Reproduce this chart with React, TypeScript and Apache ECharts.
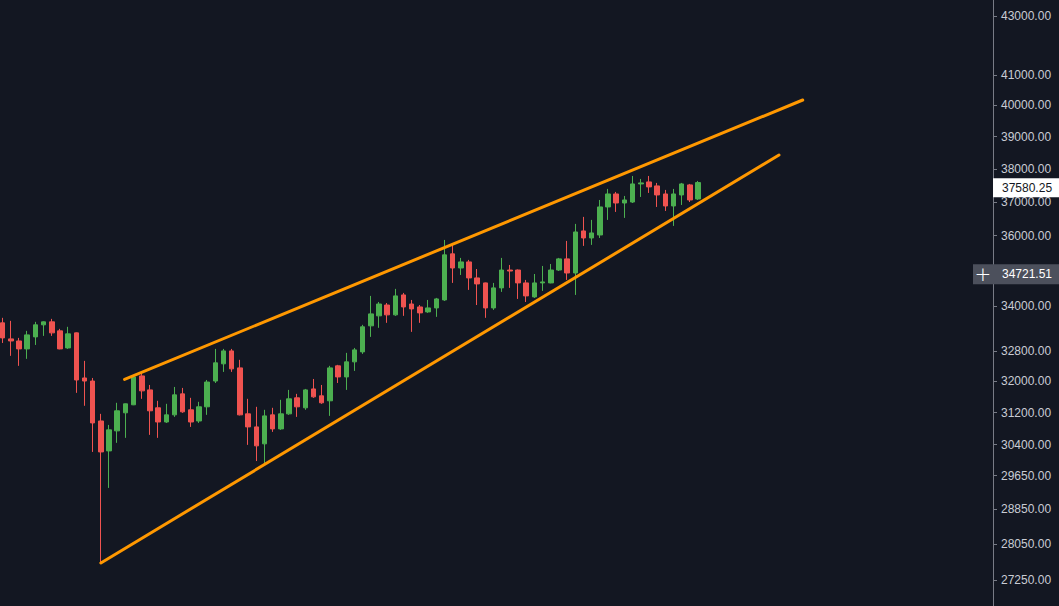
import React, { useEffect, useRef } from "react";
import * as echarts from "echarts";

// OHLC values (one entry per candle)
const OPEN = [33550, 33117, 33062, 32850, 33171, 33496, 33577, 33333, 32876, 33279, 32087, 32008, 30990, 30249, 30743, 31195, 31398, 32140, 31779, 31322, 30965, 31144, 31677, 31271, 30990, 31347, 32008, 32456, 32797, 32350, 31169, 30842, 30422, 31144, 30792, 31169, 31576, 31322, 31804, 31627, 31500, 32403, 32114, 32508, 32771, 33469, 33740, 34037, 33767, 34316, 34065, 33984, 33848, 33957, 34177, 35475, 35072, 35244, 34791, 34651, 33957, 34512, 35014, 35014, 34651, 34261, 34651, 34651, 35014, 35331, 34930, 36139, 35934, 36021, 36847, 37236, 36965, 36994, 37539, 37600, 37479, 37236, 36876, 37206, 37509, 37085];
const CLOSE = [33144, 33062, 32850, 33225, 33496, 33577, 33279, 32850, 33252, 32035, 32008, 30941, 30224, 30768, 31246, 31423, 32114, 31754, 31246, 30965, 31144, 31652, 31220, 30965, 31347, 31982, 32482, 32797, 32324, 31144, 30842, 30373, 31118, 30792, 31169, 31550, 31347, 31779, 31601, 31449, 32350, 32114, 32508, 32824, 33442, 33794, 34065, 33767, 34289, 33984, 33930, 33821, 33957, 34205, 35446, 35072, 35244, 34791, 34623, 33957, 34512, 35014, 34986, 34651, 34289, 34651, 34679, 35014, 35331, 34930, 36109, 35934, 36080, 36847, 37236, 36965, 37055, 37539, 37570, 37449, 37206, 36876, 37236, 37539, 37055, 37580.25];
const LOW = [33008, 32666, 32403, 32587, 32955, 33198, 33198, 32840, 32850, 31703, 31373, 30224, 27628, 29357, 30447, 30570, 31390, 31550, 30644, 30570, 30941, 31093, 31195, 30842, 30941, 31144, 31957, 32245, 32245, 31130, 30397, 30002, 29955, 30718, 30768, 31144, 31093, 31271, 31576, 31423, 31118, 31957, 31779, 32271, 32718, 33171, 33415, 33550, 33740, 33740, 33306, 33550, 33821, 33713, 34149, 34651, 34874, 34456, 34037, 33686, 33903, 34400, 34512, 34205, 34121, 34233, 34428, 34640, 34986, 34735, 34316, 35704, 35733, 35934, 36463, 36699, 36522, 36965, 37146, 37267, 36847, 36728, 36286, 36906, 36994, 37055];
const HIGH = [33686, 33604, 33144, 33333, 33577, 33590, 33658, 33387, 33442, 33290, 32534, 32087, 31169, 30891, 31449, 31430, 32166, 32219, 31906, 31500, 31423, 31855, 31830, 31576, 31474, 32035, 32850, 32850, 32850, 32561, 31550, 31347, 31271, 31322, 31525, 31779, 31677, 31804, 32061, 31906, 32403, 32429, 32745, 32876, 33496, 34289, 34121, 34093, 34484, 34372, 34177, 34037, 34177, 34233, 35877, 35733, 35359, 35302, 35043, 34660, 34651, 35359, 35158, 35030, 34735, 34902, 35130, 35186, 35359, 35848, 36345, 36552, 36463, 37055, 37388, 37297, 37176, 37782, 37691, 37782, 37570, 37358, 37388, 37570, 37539, 37630];

// Price-axis tick labels (logarithmic price scale)
const TICKS = [43000, 41000, 40000, 39000, 38000, 37000, 36000, 35000, 34000, 32800, 32000, 31200, 30400, 29650, 28850, 28050, 27250];
const Y_MIN = 26683;
const Y_MAX = 43560;
const X_MIN = -0.33;
const X_MAX = 121.06;

// Trend lines: [candle index, price]
const UPPER_LINE = [[14.9, 32050], [97.8, 40176]];
const LOWER_LINE = [[12, 27628], [94.9, 38428]];

// Price labels on the axis
const LAST_PRICE = 37580.25;
const CROSS_PRICE = 34721.51;

const UP = "#4caf50";
const DOWN = "#ef5350";
const ORANGE = "#ff9800";
const BG = "#131722";

const ln = (v: number) => Math.log(v);

export default function App() {
  const ref = useRef<HTMLDivElement>(null);

  useEffect(() => {
    if (!ref.current) return;
    const chart = echarts.init(ref.current, undefined, { renderer: "svg" });

    const candles = OPEN.map((o, i) => [i, ln(o), ln(CLOSE[i]), ln(LOW[i]), ln(HIGH[i])]);
    const toLine = (pts: number[][]) => pts.map((p) => [p[0], ln(p[1])]);
    const fmt = (v: number) => {
      let best = TICKS[0];
      for (const t of TICKS) if (Math.abs(ln(t) - v) < Math.abs(ln(best) - v)) best = t;
      return best.toFixed(2);
    };

    chart.setOption({
      animation: false,
      backgroundColor: BG,
      grid: { left: 0, right: 66, top: 0, bottom: 0 },
      xAxis: {
        type: "value",
        min: X_MIN,
        max: X_MAX,
        show: false,
      },
      yAxis: {
        type: "value",
        position: "right",
        min: ln(Y_MIN),
        max: ln(Y_MAX),
        scale: true,
        splitLine: { show: false },
        axisLine: { show: true, onZero: false, lineStyle: { color: "#787b86", width: 1 } },
        axisTick: {
          show: true,
          length: 4,
          customValues: TICKS.map(ln),
          lineStyle: { color: "#787b86" },
        },
        axisLabel: {
          customValues: TICKS.map(ln),
          formatter: (v: number) => fmt(v),
          color: "#c9ccd4",
          fontSize: 12,
          fontFamily: "Liberation Sans",
          margin: 8,
        },
      },
      series: [
        {
          type: "candlestick",
          data: candles,
          encode: { x: 0, y: [1, 2, 3, 4] },
          barWidth: 5,
          itemStyle: {
            color: UP,
            color0: DOWN,
            borderColor: UP,
            borderColor0: DOWN,
            borderWidth: 1,
          },
          markLine: {
            silent: true,
            symbol: ["none", "none"],
            lineStyle: { color: "rgba(0,0,0,0)", width: 0, type: "solid" },
            data: [
              {
                yAxis: ln(LAST_PRICE),
                label: {
                  show: true,
                  position: "end",
                  distance: 0,
                  formatter: () => LAST_PRICE.toFixed(2),
                  color: "#131722",
                  backgroundColor: "#ffffff",
                  fontSize: 12,
                  fontFamily: "Liberation Sans",
                  lineHeight: 13,
                  padding: [3, 8, 3, 9],
                },
              },
              {
                yAxis: ln(CROSS_PRICE),
                label: {
                  show: true,
                  position: "end",
                  distance: -20,
                  formatter: () => "{p|+}{v|" + CROSS_PRICE.toFixed(2) + "}",
                  backgroundColor: "#4c505c",
                  padding: [3, 8, 3, 0],
                  lineHeight: 14,
                  rich: {
                    p: {
                      width: 20,
                      align: "center",
                      fontSize: 20,
                      fontFamily: "DejaVu Sans",
                      fontWeight: 200,
                      color: "#ffffff",
                      lineHeight: 14,
                    },
                    v: {
                      color: "#ffffff",
                      fontSize: 12,
                      fontFamily: "Liberation Sans",
                      padding: [0, 0, 0, 9],
                      lineHeight: 14,
                    },
                  },
                },
              },
            ],
          },
        },
        {
          type: "line",
          data: toLine(UPPER_LINE),
          symbol: "none",
          silent: true,
          lineStyle: { color: ORANGE, width: 3, cap: "round" },
        },
        {
          type: "line",
          data: toLine(LOWER_LINE),
          symbol: "none",
          silent: true,
          lineStyle: { color: ORANGE, width: 3, cap: "round" },
        },
      ],
    });

    return () => chart.dispose();
  }, []);

  return (
    <div
      ref={ref}
      style={{ position: "fixed", left: 0, top: 0, width: "1059px", height: "606px" }}
    />
  );
}
